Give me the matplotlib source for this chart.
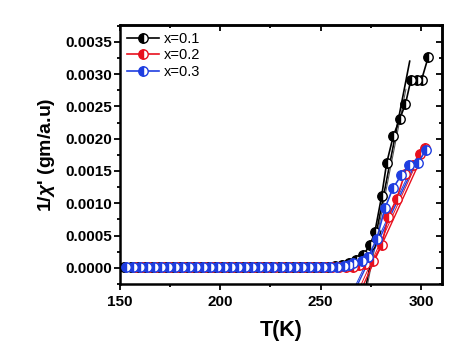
import numpy as np
import matplotlib.pyplot as plt
from matplotlib.ticker import MultipleLocator

plt.rcParams['font.family'] = ['Liberation Sans', 'DejaVu Sans']
plt.rcParams['mathtext.fontset'] = 'custom'
plt.rcParams['mathtext.it'] = 'Liberation Sans:italic:bold'
plt.rcParams['mathtext.rm'] = 'Liberation Sans:bold'

# x = 0.1
T_01 = [152.0, 155.5, 159.0, 162.5, 166.0, 169.5, 173.0, 176.5, 180.0, 183.5,
        187.0, 190.5, 194.0, 197.5, 201.0, 204.5, 208.0, 211.5, 215.0, 218.5,
        222.0, 225.5, 229.0, 232.5, 236.0, 239.5, 243.0, 246.5, 250.0, 253.5,
        257.0, 260.5, 264.0, 267.5, 271.2, 274.6, 277.0, 280.4, 282.9, 286.2,
        289.5, 292.3, 295.0, 297.8, 300.3, 303.6]
chi_01 = [0.00001, 0.00001, 0.00001, 0.00001, 0.00001, 0.00001, 0.00001, 0.00001, 0.00001, 0.00001,
          0.00001, 0.00001, 0.00001, 0.00001, 0.00001, 0.00001, 0.00001, 0.00001, 0.00001, 0.00001,
          0.00001, 0.00001, 0.00001, 0.00001, 0.00001, 0.00001, 0.00001, 0.00001, 0.00001, 0.00002,
          0.00003, 0.00005, 0.00008, 0.00012, 0.00020, 0.00035, 0.00055, 0.00111, 0.00162, 0.00204,
          0.00231, 0.00254, 0.00291, 0.00291, 0.00291, 0.00326]

# x = 0.2
T_02 = [157.5, 161.0, 164.5, 168.0, 171.5, 175.0, 178.5, 182.0, 185.5, 189.0,
        192.5, 196.0, 199.5, 203.0, 206.5, 210.0, 213.5, 217.0, 220.5, 224.0,
        227.5, 231.0, 234.5, 238.0, 241.5, 245.0, 248.5, 252.0, 255.5, 259.0,
        262.5, 266.0, 269.0, 272.0, 276.2, 280.4, 283.7, 287.9, 292.0, 296.1,
        299.5, 302.0]
chi_02 = [0.00001, 0.00001, 0.00001, 0.00001, 0.00001, 0.00001, 0.00001, 0.00001, 0.00001, 0.00001,
          0.00001, 0.00001, 0.00001, 0.00001, 0.00001, 0.00001, 0.00001, 0.00001, 0.00001, 0.00001,
          0.00001, 0.00001, 0.00001, 0.00001, 0.00001, 0.00001, 0.00001, 0.00001, 0.00001, 0.00001,
          0.00001, 0.00002, 0.00004, 0.00006, 0.00011, 0.00035, 0.00079, 0.00107, 0.00146, 0.00159,
          0.00177, 0.00185]

# x = 0.3
T_03 = [153.0, 156.5, 160.0, 163.5, 167.0, 170.5, 174.0, 177.5, 181.0, 184.5,
        188.0, 191.5, 195.0, 198.5, 202.0, 205.5, 209.0, 212.5, 216.0, 219.5,
        223.0, 226.5, 230.0, 233.5, 237.0, 240.5, 244.0, 247.5, 251.0, 254.5,
        258.0, 261.5, 264.0, 266.3, 270.4, 273.7, 277.9, 282.0, 286.0, 290.3,
        294.0, 298.7, 302.3]
chi_03 = [0.00001, 0.00001, 0.00001, 0.00001, 0.00001, 0.00001, 0.00001, 0.00001, 0.00001, 0.00001,
          0.00001, 0.00001, 0.00001, 0.00001, 0.00001, 0.00001, 0.00001, 0.00001, 0.00001, 0.00001,
          0.00001, 0.00001, 0.00001, 0.00001, 0.00001, 0.00001, 0.00001, 0.00001, 0.00001, 0.00001,
          0.00002, 0.00003, 0.00005, 0.00007, 0.00010, 0.00017, 0.00044, 0.00092, 0.00123, 0.00144,
          0.00159, 0.00163, 0.00182]

labels = ['x=0.1', 'x=0.2', 'x=0.3']
colors = ['black', '#e8101e', '#1f3ee0']

# linear fits of the paramagnetic region: zero crossing, slope, T range
fit_T0 = [274.4, 275.0, 275.2, 274.0, 272.4, 271.6]
fit_slope = [0.000160, 0.000158, 0.000068, 0.000068, 0.000065, 0.000065]
fit_Tmin = [272.8, 273.3, 271.2, 270.0, 268.2, 267.4]
fit_Tmax = [294.4, 292.5, 303.1, 301.5, 300.5, 300.0]
fit_colors = ['black', '#555555', '#e8101e', '#e8101e', '#1f3ee0', '#1f3ee0']
fit_widths = [1.2, 0.8, 1.0, 0.7, 1.0, 0.7]

fig = plt.figure(figsize=(4.74, 3.51), dpi=100)
ax = fig.add_axes([0.2532, 0.1909, 0.6793, 0.7379])

for i in range(len(fit_T0)):
    tt = np.array([fit_Tmin[i], fit_Tmax[i]])
    ax.plot(tt, fit_slope[i] * (tt - fit_T0[i]), color=fit_colors[i], lw=fit_widths[i], zorder=2)

for T, chi, lab, c in zip([T_01, T_02, T_03], [chi_01, chi_02, chi_03], labels, colors):
    ax.plot(T, chi, '-o', color=c, lw=1.2, ms=6.8, fillstyle='left', markerfacecoloralt='white',
            markeredgecolor=c, markeredgewidth=1.0, label=lab, zorder=3)

ax.set_xlim(150, 310.5)
ax.set_ylim(-0.00025, 0.00376)
ax.xaxis.set_major_locator(MultipleLocator(50))
ax.xaxis.set_minor_locator(MultipleLocator(25))
ax.yaxis.set_major_locator(MultipleLocator(0.0005))
ax.yaxis.set_minor_locator(MultipleLocator(0.00025))
ax.yaxis.set_major_formatter(plt.FormatStrFormatter('%.4f'))

ax.tick_params(which='both', direction='out', top=False, right=False, width=1.3)
ax.tick_params(which='major', length=4, labelsize=11)
ax.tick_params(axis='x', which='major', pad=4)
ax.tick_params(axis='y', which='major', pad=2)
ax.tick_params(which='minor', length=2.5)
sec_x = ax.secondary_xaxis('top')
sec_x.xaxis.set_major_locator(MultipleLocator(50))
sec_x.xaxis.set_minor_locator(MultipleLocator(25))
sec_x.tick_params(which='both', direction='in', labeltop=False, width=1.3)
sec_x.tick_params(which='major', length=4)
sec_x.tick_params(which='minor', length=2.5)
sec_y = ax.secondary_yaxis('right')
sec_y.yaxis.set_major_locator(MultipleLocator(0.0005))
sec_y.yaxis.set_minor_locator(MultipleLocator(0.00025))
sec_y.tick_params(which='both', direction='in', labelright=False, width=1.3)
sec_y.tick_params(which='major', length=4)
sec_y.tick_params(which='minor', length=2.5)
for lab in ax.get_xticklabels() + ax.get_yticklabels():
    lab.set_fontweight('bold')
for s in list(ax.spines.values()) + [sec_x.spines['top'], sec_y.spines['right']]:
    s.set_linewidth(1.8)

ax.set_xlabel('T(K)', fontsize=15.5, fontweight='bold', labelpad=8)
ax.set_ylabel(r"1/$\mathit{\chi}$' (gm/a.u)", fontsize=14, fontweight='bold', labelpad=6)

ax.legend(loc='upper left', frameon=False, fontsize=10.5, handlelength=2.2,
          handletextpad=0.3, labelspacing=0.15, borderaxespad=0.3, borderpad=0.2)

fig.savefig('out.png', dpi=100)
